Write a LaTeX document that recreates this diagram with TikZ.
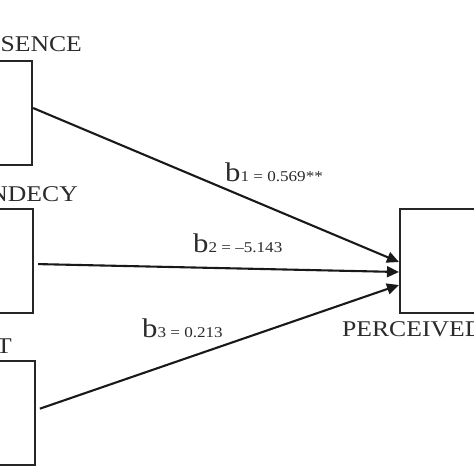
\documentclass[tikz,border=0pt]{standalone}
\usepackage{fontspec}
\setmainfont{Liberation Serif}
\usetikzlibrary{arrows.meta,positioning,calc}
\definecolor{inkgray}{HTML}{2B2B2B}
\tikzset{
  patharr/.style={-{Triangle[length=12pt, width=11pt]}, line width=2.1pt, draw=black!90},
  varbox/.style={draw=black!85, line width=2.1pt, minimum width=100pt, minimum height=104pt},
  varname/.style={font=\fontsize{22.5}{26}\selectfont, text=inkgray, inner sep=0pt},
}
\newcommand{\wide}[1]{\scalebox{1.14}[1]{#1}}
\newcommand{\coef}[2]{\wide{{\fontsize{27}{30}\selectfont #1}{\fontsize{15}{16}\selectfont #2}}}

\begin{document}
\begin{tikzpicture}[
  x=1pt, y=-1pt,
  coeflbl/.style={text=inkgray, inner sep=0pt, anchor=base west},
]
  \useasboundingbox (0,0) rectangle (474,474);
  \clip (0,0) rectangle (474,474);

  % boxes
  \node[varbox] (pres)  at (-18,113) {};
  \node[varbox] (tend)  at (-17,261) {};
  \node[varbox] (trust) at (-15,413) {};
  \node[varbox] (perc)  at (450,261) {};

  % box names
  \node[varname, anchor=base east] (presname)  at (82,51)  {\wide{SENCE}};
  \node[varname, anchor=base east] (tendname)  at (78,201) {\wide{NDECY}};
  \node[varname, anchor=base east] (trustname) at (12,353) {\wide{T}};
  \node[varname, anchor=base west] (percname)  at (342,336) {\wide{PERCEIVED}};

  % paths
  \draw[patharr] ($(pres.east)+(0,-5)$) -- ($(perc.west)+(0,1)$);
  \draw[patharr, shorten <=4pt] ($(tend.east)+(0,3)$) -- ($(perc.west)+(0,11)$);
  \draw[patharr, shorten <=4pt] ($(trust.east)+(0,-3)$) -- ($(perc.west)+(0,24)$);

  % coefficients
  \node[coeflbl] (b1) at (225,181) {\coef{b}{1 = 0.569**}};
  \node[coeflbl] (b2) at (193,252) {\coef{b}{2 = --5.143}};
  \node[coeflbl] (b3) at (142,337) {\coef{b}{3 = 0.213}};
\end{tikzpicture}
\end{document}
